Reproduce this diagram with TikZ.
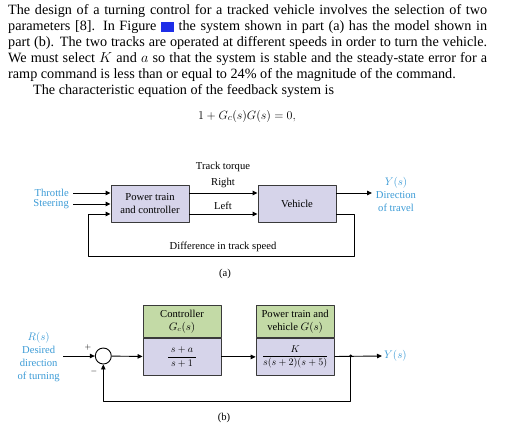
\documentclass[tikz,border=0pt]{standalone}
\usepackage{amsmath}
\usepackage{fontspec}
\setmainfont{Liberation Serif}
\usetikzlibrary{arrows.meta}
\definecolor{boxfill}{HTML}{D6D4EA}
\definecolor{ctrlgreen}{HTML}{C3DAA6}
\definecolor{sigblue}{HTML}{3C9BD6}
\definecolor{edgegray}{HTML}{3A3A3A}
\definecolor{iconblue}{HTML}{1E2EE8}
\begin{document}
\begin{tikzpicture}[x=1pt,y=-1pt,line join=round,>={Triangle[length=5pt,width=4.5pt]},
	blk/.style={draw=edgegray,line width=0.9pt,fill=boxfill,minimum width=78pt,minimum height=37pt,inner sep=0pt,align=center,font=\fontsize{10.6}{13}\selectfont},
	hdr/.style={blk,fill=ctrlgreen,minimum height=32.7pt},
	bdy/.style={blk,minimum height=36.6pt,font=\fontsize{9.6}{12}\selectfont},
	sig/.style={line width=0.9pt},
	lbl/.style={inner sep=1pt,font=\fontsize{10.6}{13}\selectfont},
	bluelbl/.style={lbl,text=sigblue,align=center},
	para/.style={anchor=base west,inner sep=0pt,font=\fontsize{14.2}{16}\selectfont}]
	\useasboundingbox (0,0) rectangle (513,425);
	% problem text
	\node[para] (l1) at (8,15) {\hbox to 479pt{The design of a turning control for a tracked vehicle involves the selection of two}};
	\node[para] (l2) at (8,31) {\hbox to 479pt{parameters [8]. In Figure \textcolor{iconblue}{\rule[-1.5pt]{13pt}{10pt}} the system shown in part (a) has the model shown in}};
	\node[para] (l3) at (8,47) {\hbox to 479pt{part (b). The two tracks are operated at different speeds in order to turn the vehicle.}};
	\node[para] (l4) at (8,63) {\hbox to 479pt{We must select $K$ and $a$ so that the system is stable and the steady-state error for a}};
	\node[para] (l5) at (8,79) {ramp command is less than or equal to 24\% of the magnitude of the command.};
	\node[para] (l6) at (33,95) {The characteristic equation of the feedback system is};
	\node[para,font=\fontsize{13.2}{16}\selectfont] (eq) at (198,119) {$1+G_c(s)G(s)=0,$};
	% part (a)
	\node[blk] (ptc) at (150,203.5) {Power train\\and controller};
	\node[blk] (veh) at (297,203.5) {Vehicle};
	\path
		(73,193) coordinate (thr)
		(73,204) coordinate (ste)
		(88,214) coordinate (fba)
		(372,193) coordinate (ya)
		(354,256) coordinate (fbb)
	;
	\draw[sig,->] (thr) -- (thr -| ptc.west);
	\draw[sig,->] (ste) -- (ste -| ptc.west);
	\draw[sig,->] (ptc.east |- thr) -- (veh.west |- thr);
	\draw[sig,->] (ptc.east |- fba) -- (veh.west |- fba);
	\draw[sig,->] (veh.east |- thr) -- (ya);
	\draw[sig,->] (veh.east |- fba) -| (fbb) -| (fba) -- (fba -| ptc.west);
	\node[bluelbl,anchor=east] (thrl) at (70,192.5) {Throttle};
	\node[bluelbl,anchor=east] (stel) at (70,204) {Steering};
	\node[lbl] (tq) at (223,167) {Track torque};
	\node[lbl] (rt) at (223,183) {Right};
	\node[lbl] (lt) at (223,206) {Left};
	\node[bluelbl] (yal) at (396,194) {$Y(s)$\\Direction\\of travel};
	\node[lbl] (diff) at (223,247) {Difference in track speed};
	\node[lbl] (capa) at (225,274) {(a)};
	% part (b)
	\node[hdr] (ctlh) at (182,321.35) {Controller\\$G_c(s)$};
	\node[bdy,anchor=north] (ctlb) at (ctlh.south) {$\dfrac{\;s+a\;}{\;s+1\;}$};
	\node[hdr] (plh) at (295.15,321.35) {Power train and\\vehicle $G(s)$};
	\node[bdy,anchor=north] (plb) at (plh.south) {$\dfrac{K}{s(s+2)(s+5)}$};
	\node[draw,circle,line width=0.9pt,minimum size=16pt,inner sep=0pt] (sum) at (103.3,356) {};
	\path
		(63,356) coordinate (rin)
		(350.7,356) coordinate (tko)
		(382,356) coordinate (yb)
		(350.7,401) coordinate (fbc)
	;
	\draw[sig,->] (rin) -- (sum);
	\draw[sig,->] (sum) -- (ctlb);
	\draw[sig,->] (ctlb) -- (plb);
	\draw[sig,->] (plb) -- (yb);
	\fill (tko) circle (1.6);
	\draw[sig,->] (tko) -- (fbc) -| (sum);
	\node[lbl,font=\fontsize{8.5}{10}\selectfont] (plus) at (88,347) {$+$};
	\node[lbl,font=\fontsize{8.5}{10}\selectfont] (minus) at (94,371.5) {$-$};
	\node[bluelbl] (rl) at (38.7,356.8) {$R(s)$\\Desired\\direction\\of turning};
	\node[bluelbl,anchor=west] (ybl) at (383,356) {$Y(s)$};
	\node[lbl] (capb) at (224,418) {(b)};
\end{tikzpicture}
\end{document}
